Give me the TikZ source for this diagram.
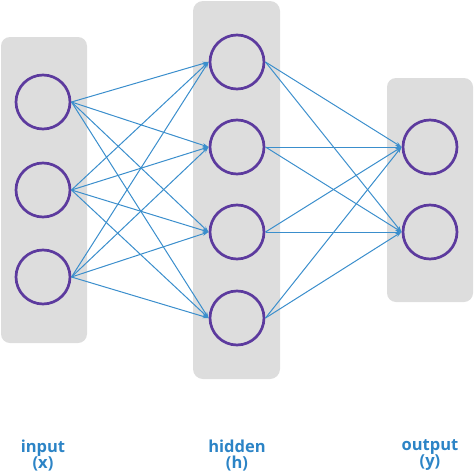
\documentclass[tikz,border=0pt]{standalone}
\usepackage{fontspec}
\setmainfont{Open Sans}
\usepackage{xcolor}
\usetikzlibrary{arrows.meta}
\definecolor{panelgray}{RGB}{221,221,221}
\definecolor{nodepurple}{RGB}{92,58,158}
\definecolor{linkblue}{RGB}{58,142,204}
\definecolor{labelblue}{RGB}{44,132,198}
\tikzset{
  neuron/.style={circle, draw=nodepurple, line width=2.7pt, minimum size=54pt, inner sep=0pt, outer sep=1.5pt},
  link/.style={draw=linkblue, line width=1pt, -{Stealth[length=6pt, width=4pt]}},
  layerlabel/.style={align=center, text=labelblue, font=\bfseries\fontsize{16.5}{16}\selectfont}
}
\begin{document}
\begin{tikzpicture}[x=1pt, y=-1pt]
\useasboundingbox (0,0) rectangle (474,474);
% layer panels
\fill[panelgray, rounded corners=9pt] (1,37) rectangle (87,343);
\fill[panelgray, rounded corners=10pt] (193,1) rectangle (280,379);
\fill[panelgray, rounded corners=9pt] (387,78) rectangle (473,302);
% input layer
\node[neuron] (i1) at (43,102) {};
\node[neuron] (i2) at (43,190) {};
\node[neuron] (i3) at (43,277) {};
% hidden layer
\node[neuron] (h1) at (237,62) {};
\node[neuron] (h2) at (237,147) {};
\node[neuron] (h3) at (237,232) {};
\node[neuron] (h4) at (237,318) {};
% output layer
\node[neuron] (o1) at (430,147) {};
\node[neuron] (o2) at (430,232) {};
% connections
\foreach \a in {1,2,3}
  \foreach \b in {1,2,3,4}
    \draw[link] (i\a.east) -- (h\b.west);
\foreach \a in {1,2,3,4}
  \foreach \b in {1,2}
    \draw[link] (h\a.east) -- (o\b.west);
% labels
\node[layerlabel] (lx) at (43,456) {input\\(x)};
\node[layerlabel] (lh) at (237,456) {hidden\\(h)};
\node[layerlabel] (ly) at (430,455) {output\\(y)};
\end{tikzpicture}
\end{document}
